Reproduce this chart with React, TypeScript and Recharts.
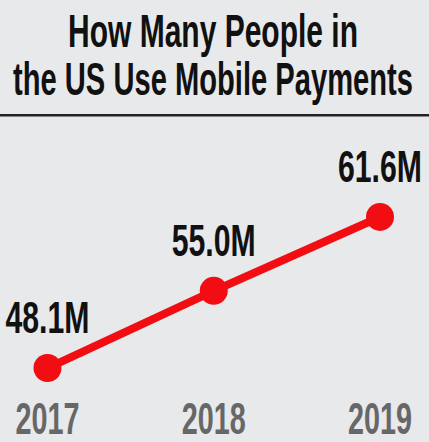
import React from "react";
import { LineChart, Line, XAxis, YAxis, LabelList } from "recharts";

const years = ["2017", "2018", "2019"];
const users = [48.1, 55.0, 61.6];
const valueLabels = ["48.1M", "55.0M", "61.6M"];

const data = years.map((year, i) => ({
  year,
  users: users[i],
  label: valueLabels[i],
}));

const RED = "#f10d12";
const FONT = "'Liberation Sans Narrow', 'Liberation Sans', Arial, sans-serif";
const SQUEEZE = 0.6;

// condensed-looking text: horizontal scale plus a fixed rendered width
const Narrow = ({ x, y, width, size, fill, children }: any) => (
  <text
    transform={`translate(${x},${y}) scale(${SQUEEZE},1)`}
    textAnchor="middle"
    fontFamily={FONT}
    fontWeight="bold"
    fontSize={size}
    fill={fill}
    textLength={width / SQUEEZE}
    lengthAdjust="spacingAndGlyphs"
  >
    {children}
  </text>
);

const renderLabel = (props: any) => {
  const { x, y, value } = props;
  return (
    <Narrow x={x} y={y - 35} width={84} size={45} fill="#111">
      {value}
    </Narrow>
  );
};

const YearTick = (props: any) => {
  const { x, y, payload } = props;
  return (
    <Narrow x={x} y={y + 34} width={64} size={44} fill="#676767">
      {payload.value}
    </Narrow>
  );
};

const App = () => {
  return (
    <div
      style={{
        position: "absolute",
        left: 0,
        top: 0,
        width: 429,
        height: 442,
        background: "#e8e9eb",
        overflow: "hidden",
      }}
    >
      <svg
        width={429}
        height={120}
        style={{ position: "absolute", left: 0, top: 0 }}
      >
        <Narrow x={213} y={47} width={290} size={47} fill="#111">
          How Many People in
        </Narrow>
        <Narrow x={213} y={95} width={400} size={47} fill="#111">
          the US Use Mobile Payments
        </Narrow>
        <rect x={0} y={114} width={429} height={2.5} fill="#222" />
      </svg>

      <div style={{ position: "absolute", left: 0, top: 0 }}>
        <LineChart
          width={429}
          height={442}
          data={data}
          margin={{ top: 123, right: 49, bottom: 0, left: 47.5 }}
        >
          <XAxis
            dataKey="year"
            height={50.5}
            axisLine={false}
            tickLine={false}
            interval={0}
            padding={{ left: 0, right: 0 }}
            tick={<YearTick />}
          />
          <YAxis hide domain={[46, 70]} />
          <Line
            type="linear"
            dataKey="users"
            stroke={RED}
            strokeWidth={8}
            dot={{ r: 14, fill: RED, stroke: RED, strokeWidth: 0 }}
            activeDot={false}
            isAnimationActive={false}
          >
            <LabelList dataKey="label" content={renderLabel} />
          </Line>
        </LineChart>
      </div>
    </div>
  );
};

export default App;
